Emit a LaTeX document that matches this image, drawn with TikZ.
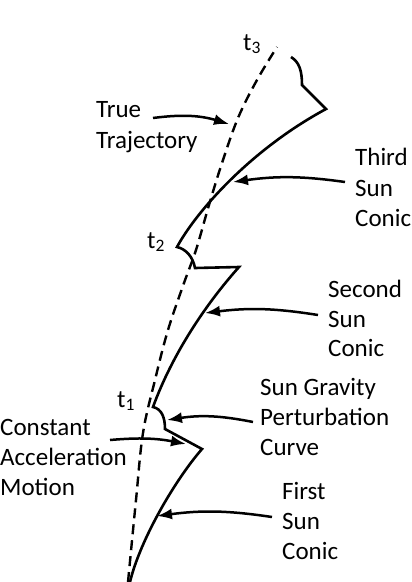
\documentclass[tikz,border=0pt]{standalone}
\usepackage{fontspec}
\setmainfont{Carlito}
\usetikzlibrary{arrows.meta}
\begin{document}
\begin{tikzpicture}[x=1pt,y=-1pt,
  lbl/.style={anchor=base west,inner sep=0pt,font=\fontsize{25}{30}\selectfont},
  path/.style={line width=2.6pt,line join=miter},
  truepath/.style={line width=2.4pt,dash pattern=on 10pt off 6pt},
  pointer/.style={line width=2.5pt,-{Latex[length=15pt,width=11pt]}}]
\useasboundingbox (0,0) rectangle (412,582);

% true trajectory (dashed)
\draw[truepath] plot[smooth,tension=0.6] coordinates
  {(128,582) (136,500) (143,433) (155,380) (168,330) (184,283) (196,250) (209,205) (222,163) (238,118) (257,80) (277,47)};

% piecewise path of conics
\coordinate (p0) at (130,582);
\coordinate (c1) at (202,449);
\coordinate (c1a) at (165,429);
\coordinate (c1b) at (153,407);
\coordinate (c2) at (239,267);
\coordinate (c2a) at (195,268);
\coordinate (c2b) at (177,247);
\coordinate (c3) at (326,109);
\coordinate (c3a) at (302,85);
\coordinate (c3b) at (291,57);
\draw[path] (p0) .. controls (140,540) and (175,480) .. (c1)
  -- (c1a) .. controls (165,418) and (162,409) .. (c1b)
  .. controls (172,355) and (205,305) .. (c2)
  -- (c2a) .. controls (193,257) and (186,249) .. (c2b)
  .. controls (196,212) and (250,150) .. (c3)
  -- (c3a) .. controls (302,70) and (299,62) .. (c3b);

% labels
\node[lbl] (t3) at (243,50) {t\textsubscript{3}};
\node[lbl] (t2) at (147,248) {t\textsubscript{2}};
\node[lbl] (t1) at (117,407) {t\textsubscript{1}};

\node[lbl] (true1) at (96,117) {True};
\node[lbl] (true2) at (96,148) {Trajectory};

\node[lbl] (third1) at (355,165) {Third};
\node[lbl] (third2) at (355,196) {Sun};
\node[lbl] (third3) at (355,226) {Conic};

\node[lbl] (second1) at (328,297) {Second};
\node[lbl] (second2) at (328,327) {Sun};
\node[lbl] (second3) at (328,356) {Conic};

\node[lbl] (grav1) at (260,395) {Sun Gravity};
\node[lbl] (grav2) at (260,425) {Perturbation};
\node[lbl] (grav3) at (260,455) {Curve};

\node[lbl] (const1) at (0,435) {Constant};
\node[lbl] (const2) at (0,465) {Acceleration};
\node[lbl] (const3) at (0,495) {Motion};

\node[lbl] (first1) at (282,499) {First};
\node[lbl] (first2) at (282,529) {Sun};
\node[lbl] (first3) at (282,559) {Conic};

% pointers
\coordinate (aTrueS) at (153,118);   \coordinate (aTrueE) at (229,124);
\coordinate (aThirdS) at (345,182);  \coordinate (aThirdE) at (233,182);
\coordinate (aSecS) at (318,315);    \coordinate (aSecE) at (205,313);
\coordinate (aGravS) at (253,422);   \coordinate (aGravE) at (167,420);
\coordinate (aConS) at (110,440);    \coordinate (aConE) at (186,444);
\coordinate (aFirS) at (272,517);    \coordinate (aFirE) at (157,516);
\draw[pointer] (aTrueS) to[bend left=12] (aTrueE);
\draw[pointer] (aThirdS) to[bend right=8] (aThirdE);
\draw[pointer] (aSecS) to[bend right=8] (aSecE);
\draw[pointer] (aGravS) to[bend right=10] (aGravE);
\draw[pointer] (aConS) to[bend left=8] (aConE);
\draw[pointer] (aFirS) to[bend right=8] (aFirE);
\end{tikzpicture}
\end{document}
